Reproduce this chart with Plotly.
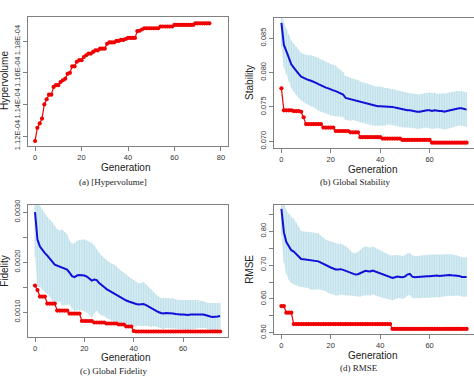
import plotly.graph_objects as go

# ---------------- data ----------------
generation = list(range(76))

# (a) Hypervolume (units of 1e-4)
hypervolume_e4 = [1.1169, 1.1252, 1.1280, 1.1311, 1.1400, 1.1433, 1.1462, 1.1462, 1.1511, 1.1522,
                  1.1522, 1.1542, 1.1553, 1.1563, 1.1594, 1.1600, 1.1641, 1.1641, 1.1670, 1.1680,
                  1.1680, 1.1700, 1.1711, 1.1722, 1.1722, 1.1732, 1.1742, 1.1742, 1.1753, 1.1753,
                  1.1753, 1.1784, 1.1792, 1.1792, 1.1792, 1.1802, 1.1802, 1.1808, 1.1808, 1.1814,
                  1.1821, 1.1821, 1.1821, 1.1821, 1.1864, 1.1866, 1.1874, 1.1882, 1.1882, 1.1882,
                  1.1882, 1.1882, 1.1882, 1.1882, 1.1893, 1.1893, 1.1893, 1.1893, 1.1893, 1.1893,
                  1.1903, 1.1903, 1.1903, 1.1903, 1.1903, 1.1903, 1.1903, 1.1903, 1.1903, 1.1913,
                  1.1913, 1.1913, 1.1913, 1.1913, 1.1913, 1.1913]
hv_tickvals = [1.12, 1.14, 1.16, 1.18]
hv_ticktext = ["1.12E-04", "1.14E-04", "1.16E-04", "1.18E-04"]

# (b) Global Stability
stability_best = [0.0777, 0.0745, 0.0745, 0.0745, 0.0745, 0.0744, 0.0744, 0.0744, 0.0743, 0.0735,
                  0.0725, 0.0725, 0.0725, 0.0725, 0.0725, 0.0725, 0.0725, 0.0720, 0.0720, 0.0720,
                  0.0720, 0.0720, 0.0715, 0.0715, 0.0715, 0.0715, 0.0715, 0.0715, 0.0713, 0.0713,
                  0.0713, 0.0713, 0.0706, 0.0706, 0.0706, 0.0706, 0.0706, 0.0706, 0.0706, 0.0706,
                  0.0706, 0.0704, 0.0704, 0.0704, 0.0704, 0.0704, 0.0704, 0.0704, 0.0704, 0.0702,
                  0.0702, 0.0702, 0.0702, 0.0702, 0.0702, 0.0702, 0.0702, 0.0702, 0.0702, 0.0702,
                  0.0702, 0.0698, 0.0698, 0.0698, 0.0698, 0.0698, 0.0698, 0.0698, 0.0698, 0.0698,
                  0.0698, 0.0698, 0.0698, 0.0698, 0.0698, 0.0698]
stability_mean = [0.0872, 0.0840, 0.0831, 0.0821, 0.0812, 0.0807, 0.0802, 0.0798, 0.0794, 0.0792,
                  0.0790, 0.0789, 0.0788, 0.0787, 0.0785, 0.0783, 0.0781, 0.0780, 0.0778, 0.0777,
                  0.0775, 0.0774, 0.0773, 0.0771, 0.0770, 0.0768, 0.0763, 0.0762, 0.0761, 0.0761,
                  0.0760, 0.0759, 0.0757, 0.0756, 0.0755, 0.0754, 0.0753, 0.0752, 0.0751, 0.0751,
                  0.0751, 0.0751, 0.0750, 0.0751, 0.0750, 0.0750, 0.0749, 0.0748, 0.0747, 0.0746,
                  0.0746, 0.0745, 0.0745, 0.0744, 0.0744, 0.0743, 0.0743, 0.0744, 0.0745, 0.0745,
                  0.0745, 0.0744, 0.0745, 0.0744, 0.0744, 0.0744, 0.0743, 0.0744, 0.0745, 0.0746,
                  0.0747, 0.0748, 0.0748, 0.0748, 0.0747, 0.0746]
stability_sd = [0.0035, 0.0032, 0.0033, 0.0034, 0.00345, 0.0035, 0.0035, 0.0035, 0.00345, 0.0035,
                0.00355, 0.0036, 0.0037, 0.0037, 0.00375, 0.00385, 0.0038, 0.0038, 0.00375, 0.00375,
                0.00375, 0.0037, 0.0037, 0.00355, 0.0034, 0.00325, 0.0032, 0.00315, 0.0031, 0.0030,
                0.0030, 0.0030, 0.00295, 0.00295, 0.0030, 0.00295, 0.00295, 0.0029, 0.00285, 0.00285,
                0.0028, 0.0028, 0.0027, 0.00265, 0.0026, 0.0026, 0.0026, 0.0026, 0.0026, 0.0026,
                0.0026, 0.0025, 0.0025, 0.0025, 0.0025, 0.0025, 0.0025, 0.0025, 0.0025, 0.0025,
                0.0026, 0.0026, 0.0026, 0.0025, 0.0025, 0.0026, 0.0026, 0.0026, 0.0026, 0.0026,
                0.0025, 0.0025, 0.0025, 0.0025, 0.0025, 0.0025]

# (c) Global Fidelity
fidelity_best = [0.00153, 0.00144, 0.00131, 0.00131, 0.00131, 0.00117, 0.00117, 0.00117, 0.00117, 0.00103,
                 0.00103, 0.00103, 0.00103, 0.00103, 0.00097, 0.00097, 0.00097, 0.00097, 0.00097, 0.00082,
                 0.00082, 0.00082, 0.00082, 0.00082, 0.00079, 0.00079, 0.00079, 0.00079, 0.00079, 0.00077,
                 0.00077, 0.00077, 0.00077, 0.00077, 0.00075, 0.00075, 0.00075, 0.00071, 0.00071, 0.00071,
                 0.00062, 0.00061, 0.00061, 0.00061, 0.00061, 0.00061, 0.00061, 0.00061, 0.00061, 0.00061,
                 0.00061, 0.00061, 0.00061, 0.00061, 0.00061, 0.00061, 0.00061, 0.00061, 0.00061, 0.00061,
                 0.00061, 0.00061, 0.00061, 0.00061, 0.00061, 0.00061, 0.00061, 0.00061, 0.00061, 0.00061,
                 0.00061, 0.00061, 0.00061, 0.00061, 0.00061, 0.00061]
fidelity_mean = [0.00300, 0.00245, 0.00231, 0.00224, 0.00218, 0.00213, 0.00208, 0.00201, 0.00195, 0.00193,
                 0.00192, 0.00189, 0.00187, 0.00185, 0.00179, 0.00172, 0.00170, 0.00173, 0.00174, 0.00174,
                 0.00173, 0.00171, 0.00167, 0.00163, 0.00165, 0.00164, 0.00158, 0.00153, 0.00150, 0.00146,
                 0.00143, 0.00140, 0.00137, 0.00134, 0.00131, 0.00129, 0.00126, 0.00123, 0.00121, 0.00119,
                 0.00117, 0.00116, 0.00115, 0.00115, 0.00116, 0.00114, 0.00111, 0.00108, 0.00106, 0.00103,
                 0.00100, 0.00098, 0.00097, 0.00098, 0.00098, 0.00097, 0.00097, 0.00096, 0.00095, 0.00095,
                 0.00095, 0.00094, 0.00094, 0.00095, 0.00095, 0.00095, 0.00096, 0.00095, 0.00095, 0.00094,
                 0.00092, 0.00091, 0.00090, 0.00090, 0.00091, 0.00092]
fidelity_sd = [0.00090, 0.00095, 0.00081, 0.00080, 0.00078, 0.00077, 0.00077, 0.00079, 0.00077, 0.00073,
               0.00071, 0.00076, 0.00073, 0.00070, 0.00064, 0.00065, 0.00068, 0.00069, 0.00070, 0.00071,
               0.00072, 0.00072, 0.00073, 0.00075, 0.00068, 0.00061, 0.00061, 0.00060, 0.00058, 0.00058,
               0.00057, 0.00057, 0.00058, 0.00057, 0.00055, 0.00053, 0.00053, 0.00052, 0.00049, 0.00048,
               0.00047, 0.00044, 0.00042, 0.00043, 0.00044, 0.00041, 0.00039, 0.00038, 0.00034, 0.00032,
               0.00031, 0.00030, 0.00031, 0.00030, 0.00030, 0.00030, 0.00030, 0.00029, 0.00029, 0.00029,
               0.00029, 0.00030, 0.00030, 0.00029, 0.00029, 0.00029, 0.00028, 0.00027, 0.00027, 0.00026,
               0.00026, 0.00027, 0.00028, 0.00028, 0.00027, 0.00026]

# (d) RMSE
rmse_best = [0.579, 0.579, 0.5595, 0.5595, 0.5595,
             0.526, 0.526, 0.526, 0.526, 0.526, 0.526, 0.526, 0.526, 0.526, 0.526,
             0.526, 0.526, 0.526, 0.526, 0.526, 0.526, 0.526, 0.526, 0.526, 0.526,
             0.526, 0.526, 0.526, 0.526, 0.526, 0.526, 0.526, 0.526, 0.526, 0.526,
             0.526, 0.526, 0.526, 0.526, 0.526, 0.526, 0.526, 0.526, 0.526, 0.526,
             0.5115, 0.5115, 0.5115, 0.5115, 0.5115, 0.5115, 0.5115, 0.5115, 0.5115, 0.5115,
             0.5115, 0.5115, 0.5115, 0.5115, 0.5115, 0.5115, 0.5115, 0.5115, 0.5115, 0.5115,
             0.5115, 0.5115, 0.5115, 0.5115, 0.5115, 0.5115, 0.5115, 0.5115, 0.5115, 0.5115,
             0.5115]
rmse_mean = [0.866, 0.797, 0.768, 0.754, 0.744, 0.740, 0.733, 0.725, 0.718, 0.717,
             0.716, 0.715, 0.713, 0.712, 0.712, 0.711, 0.707, 0.703, 0.699, 0.695,
             0.693, 0.690, 0.687, 0.687, 0.688, 0.686, 0.683, 0.680, 0.676, 0.673,
             0.672, 0.673, 0.676, 0.681, 0.683, 0.682, 0.681, 0.684, 0.681, 0.678,
             0.675, 0.672, 0.669, 0.666, 0.663, 0.662, 0.664, 0.666, 0.665, 0.664,
             0.666, 0.672, 0.674, 0.666, 0.664, 0.665, 0.665, 0.666, 0.666, 0.667,
             0.667, 0.668, 0.668, 0.669, 0.668, 0.669, 0.670, 0.670, 0.671, 0.670,
             0.670, 0.670, 0.668, 0.665, 0.664, 0.665]
rmse_sd = [0.080, 0.090, 0.094, 0.097, 0.097, 0.097, 0.093, 0.088, 0.083, 0.082,
           0.0825, 0.083, 0.085, 0.085, 0.083, 0.082, 0.080, 0.078, 0.076, 0.077,
           0.077, 0.077, 0.077, 0.076, 0.075, 0.074, 0.073, 0.070, 0.066, 0.063,
           0.064, 0.066, 0.069, 0.071, 0.072, 0.071, 0.071, 0.071, 0.070, 0.070,
           0.069, 0.068, 0.067, 0.066, 0.066, 0.066, 0.065, 0.064, 0.063, 0.063,
           0.063, 0.062, 0.062, 0.062, 0.062, 0.062, 0.063, 0.063, 0.063, 0.063,
           0.063, 0.063, 0.063, 0.063, 0.063, 0.062, 0.062, 0.062, 0.061, 0.061,
           0.060, 0.059, 0.058, 0.058, 0.058, 0.058]

x_ticks = [0, 20, 40, 60, 80]

# ---------------- styling ----------------
W, H = 474, 381
RED = "#f00000"
BLUE = "#1010d8"
BAND_FILL = "rgba(173,216,230,0.50)"
BAND_BAR = "rgba(173,216,230,0.65)"
FRAME = "#808080"
TICKFONT = dict(family="Liberation Sans, Arial", size=7.5, color="#333333")
TITLEFONT = dict(family="Liberation Sans, Arial", size=10, color="#222222")
CAPFONT = dict(family="Liberation Serif, Times New Roman", size=9, color="#222222")

panels = [
    dict(k="", xd=(27.6, 228.4), yd=(12, 145), xr=[-3.2, 83.2], yr=[1.1136, 1.1955], full=True),
    dict(k="2", xd=(274, 474), yd=(13.3, 146.7), xr=[-3, 78], yr=[0.06905, 0.08793], full=False),
    dict(k="3", xd=(27.6, 227.5), yd=(205, 340.7), xr=[-3, 78], yr=[0.000505, 0.00315], full=True),
    dict(k="4", xd=(274, 474), yd=(205, 338.3), xr=[-3, 78], yr=[0.4954, 0.8785], full=False),
]

ytick_specs = [
    (hv_tickvals, hv_ticktext),
    ([0.070, 0.075, 0.080, 0.085], ["0.070", "0.075", "0.080", "0.085"]),
    ([0.0010, 0.0015, 0.0020, 0.0025, 0.0030], ["0.0010", "", "0.0020", "", "0.0030"]),
    ([0.50, 0.55, 0.60, 0.65, 0.70, 0.75, 0.80, 0.85], ["0.50", "", "0.60", "", "0.70", "", "0.80", ""]),
]

fig = go.Figure()
layout = dict(width=W, height=H, margin=dict(l=0, r=0, t=0, b=0),
              paper_bgcolor="white", plot_bgcolor="white", showlegend=False)

for i, p in enumerate(panels):
    k = p["k"]
    xd = [p["xd"][0] / W, min(p["xd"][1] / W, 1.0)]
    yd = [1 - p["yd"][1] / H, 1 - p["yd"][0] / H]
    tv, tt = ytick_specs[i]
    layout["xaxis" + k] = dict(domain=xd, range=p["xr"], anchor="y" + k, tickvals=x_ticks if i == 0 else x_ticks[:4],
                               showgrid=False, zeroline=False, showline=True, linecolor=FRAME, linewidth=1,
                               mirror=True, ticks="outside", ticklen=4, tickcolor=FRAME, tickwidth=1,
                               tickfont=TICKFONT)
    layout["yaxis" + k] = dict(domain=yd, range=p["yr"], anchor="x" + k, tickvals=tv, ticktext=tt,
                               showgrid=False, zeroline=False, showline=True, linecolor=FRAME, linewidth=1,
                               mirror=p["full"], ticks="outside", ticklen=4, tickcolor=FRAME, tickwidth=1,
                               tickfont=TICKFONT, tickangle=-90)

xa = ["x", "x2", "x3", "x4"]
ya = ["y", "y2", "y3", "y4"]


def add_band(j, mean, sd):
    lower = [m - s for m, s in zip(mean, sd)]
    upper = [m + s for m, s in zip(mean, sd)]
    fig.add_trace(go.Scatter(x=generation, y=lower, mode="lines", line=dict(width=0),
                             xaxis=xa[j], yaxis=ya[j], hoverinfo="skip"))
    fig.add_trace(go.Scatter(x=generation, y=upper, mode="lines", line=dict(width=0),
                             fill="tonexty", fillcolor=BAND_FILL, xaxis=xa[j], yaxis=ya[j], hoverinfo="skip"))
    fig.add_trace(go.Scatter(x=generation, y=mean, mode="markers",
                             marker=dict(size=1, color="rgba(0,0,0,0)"),
                             error_y=dict(type="data", array=sd, symmetric=True, color=BAND_BAR,
                                          thickness=1, width=0),
                             xaxis=xa[j], yaxis=ya[j], hoverinfo="skip"))
    fig.add_trace(go.Scatter(x=generation, y=mean, mode="lines", line=dict(color=BLUE, width=2),
                             xaxis=xa[j], yaxis=ya[j]))


def add_best(j, vals):
    fig.add_trace(go.Scatter(x=generation, y=vals, mode="lines+markers",
                             line=dict(color=RED, width=1.2), marker=dict(color=RED, size=4.2),
                             xaxis=xa[j], yaxis=ya[j]))


add_best(0, hypervolume_e4)
add_band(1, stability_mean, stability_sd)
add_best(1, stability_best)
add_band(2, fidelity_mean, fidelity_sd)
add_best(2, fidelity_best)
add_band(3, rmse_mean, rmse_sd)
add_best(3, rmse_best)

ann = []


def px_ann(text, x, y, font, angle=0):
    ann.append(dict(text=text, x=x / W, y=1 - y / H, xref="paper", yref="paper", showarrow=False,
                    xanchor="center", yanchor="middle", font=font, textangle=angle))


px_ann("Generation", 126, 166.5, TITLEFONT)
px_ann("Generation", 372, 168.5, TITLEFONT)
px_ann("Generation", 126, 362, TITLEFONT)
px_ann("Generation", 372, 359.5, TITLEFONT)
px_ann("Hypervolume", 5, 78, TITLEFONT, -90)
px_ann("Stability", 250, 80, TITLEFONT, -90)
px_ann("Fidelity", 5, 273, TITLEFONT, -90)
px_ann("RMSE", 250, 272, TITLEFONT, -90)
px_ann("(a) [Hypervolume]", 113, 181.5, CAPFONT)
px_ann("(b) Global Stability", 355, 181.5, CAPFONT)
px_ann("(c) Global Fidelity", 113, 376, CAPFONT)
px_ann("(d) RMSE", 359, 373, CAPFONT)

layout["annotations"] = ann
fig.update_layout(**layout)
fig.write_html("out.html", config={"displayModeBar": False},
               post_script="document.body.style.margin='0';document.body.style.padding='0';")
